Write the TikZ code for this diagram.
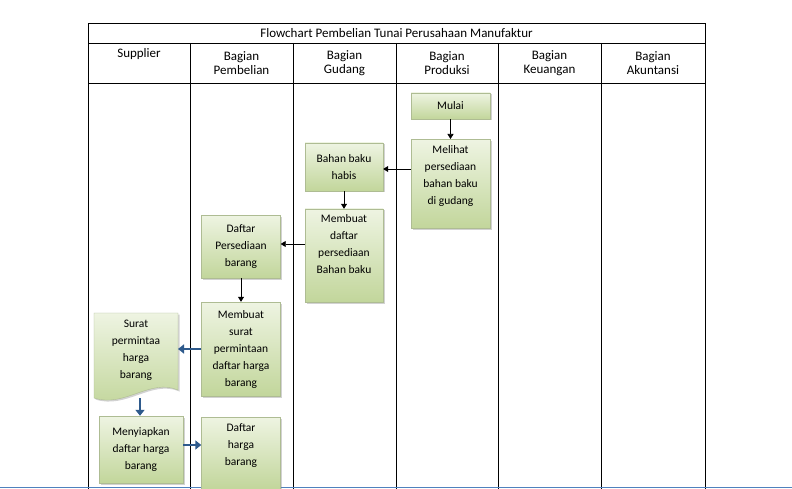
\documentclass[tikz,border=0pt]{standalone}
\usepackage{fontspec}
\setmainfont{Carlito}
\usetikzlibrary{arrows.meta,shadows}
\definecolor{gtop}{HTML}{EEF4E2}
\definecolor{gbot}{HTML}{C2D69B}
\definecolor{arrblue}{HTML}{2E5A8C}
\definecolor{blueline}{HTML}{4F81BD}
\tikzset{
  box/.style={draw=gbot!70!gray, top color=gtop, bottom color=gbot, drop shadow={shadow xshift=1.5pt,shadow yshift=-1.5pt,opacity=0.35}, inner sep=0pt},
  txt/.style={align=center, font=\fontsize{11.5}{17}\selectfont, inner sep=0pt},
  blk/.style={-{Triangle[length=5pt,width=6pt]}, line width=0.7pt},
  blu/.style={-{Triangle[length=6pt,width=9pt]}, line width=2.4pt, draw=arrblue},
  hdr/.style={font=\fontsize{13}{14.5}\selectfont, align=center},
}
\begin{document}
\begin{tikzpicture}[x=1pt,y=-1pt]
\useasboundingbox (0,0) rectangle (792,489);
\fill[white] (0,0) rectangle (792,489);
% table
\draw[line width=0.7pt] (88,489) -- (88,23) -- (705,23) -- (705,489);
\draw[line width=0.7pt] (88,43) -- (705,43);
\draw[line width=0.7pt] (88,83) -- (705,83);
\foreach \x in {190,293,396,498,601} \draw[line width=0.7pt] (\x,43) -- (\x,489);
\node[hdr] (title) at (396.5,33) {Flowchart Pembelian Tunai Perusahaan Manufaktur};
\node[hdr] (h1) at (139,54) {Supplier};
\node[hdr] (h2) at (241.5,63) {Bagian\\Pembelian};
\node[hdr] (h3) at (344.5,63) {Bagian\\Gudang};
\node[hdr] (h4) at (447,63) {Bagian\\Produksi};
\node[hdr] (h5) at (549.5,63) {Bagian\\Keuangan};
\node[hdr] (h6) at (653,63) {Bagian\\Akuntansi};
\draw[blueline, line width=1pt] (0,487.5) -- (792,487.5);
% boxes
\node[box, minimum width=79pt, minimum height=26pt] (mulai) at (450.5,106) {};
\node[txt] (tmulai) at (mulai) {Mulai};
\node[box, minimum width=79pt, minimum height=89pt, anchor=north] (lihat) at (450.5,139) {};
\node[txt, anchor=north] (tlihat) at (450.5,145) {Melihat\\persediaan\\bahan baku\\di gudang};
\node[box, minimum width=78pt, minimum height=48pt] (habis) at (344,167) {};
\node[txt] (thabis) at (habis) {Bahan baku\\habis};
\node[box, minimum width=78pt, minimum height=93pt] (buatdaftar) at (344,255.5) {};
\node[txt, anchor=north] (tbuat) at (344,214) {Membuat\\daftar\\persediaan\\Bahan baku};
\node[box, minimum width=79pt, minimum height=63pt] (dpers) at (241,246.5) {};
\node[txt] (tdpers) at (dpers) {Daftar\\Persediaan\\barang};
\node[box, minimum width=79pt, minimum height=94pt] (surat) at (241,349) {};
\node[txt] (tsurat) at (surat) {Membuat\\surat\\permintaan\\daftar harga\\barang};
% document shape
\path[draw=gbot!70!gray, top color=gtop, bottom color=gbot, drop shadow={shadow xshift=1.5pt,shadow yshift=-1.5pt,opacity=0.35}]
  (94,313) -- (178,313) -- (178,390) .. controls (150,378) and (125,408) .. (94,398) -- cycle;
\node[txt] (doc) at (136,350) {Surat\\permintaa\\harga\\barang};
\coordinate (docR) at (178,349);
\coordinate (docB) at (140,398);
\node[box, minimum width=84pt, minimum height=67pt] (siap) at (141,449.5) {};
\node[txt] (tsiap) at (siap) {Menyiapkan\\daftar harga\\barang};
\node[box, minimum width=79pt, minimum height=72pt, anchor=north] (dharga) at (241,417) {};
\node[txt, anchor=north] (tdharga) at (241,423) {Daftar\\harga\\barang};
% arrows
\draw[blk] (mulai) -- (lihat);
\draw[blk] (lihat.west |- 0,169) -- (habis.east |- 0,169);
\draw[blk] (habis.south) -- (buatdaftar.north);
\draw[blk] (buatdaftar.west |- 0,244) -- (dpers.east |- 0,244);
\draw[blk] (dpers.south) -- (surat.north);
\draw[blu] (surat.west |- 0,349) -- (docR);
\draw[blu] (docB) -- (siap.north -| docB);
\draw[blu] (siap.east |- 0,445) -- (dharga.west |- 0,445);
\draw[line width=0.7pt] (dharga.south) -- ++(0,3);
\end{tikzpicture}
\end{document}
